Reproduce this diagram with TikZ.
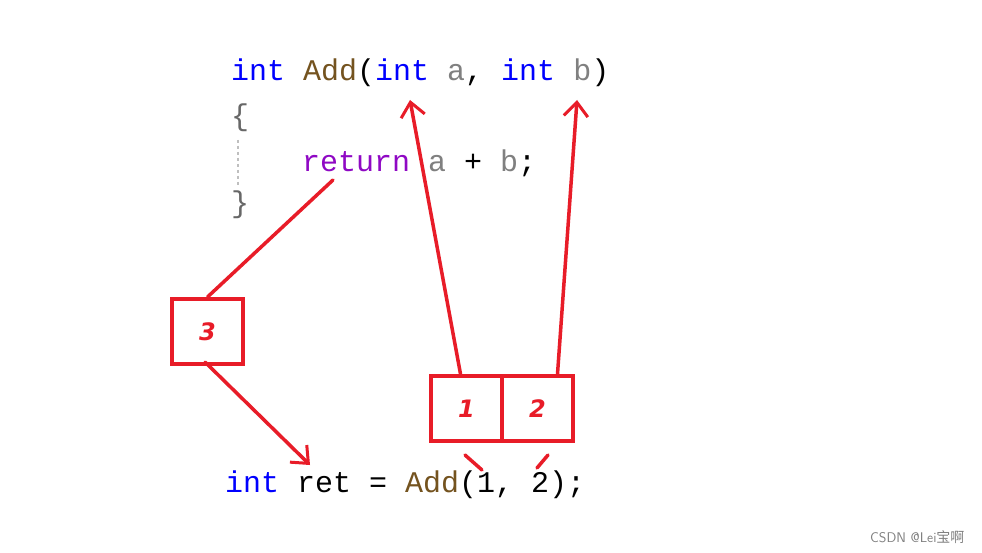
\documentclass[tikz,border=0pt]{standalone}
\usepackage{fontspec}
\setmonofont{Liberation Mono}
\newfontfamily\cjk{Noto Sans CJK SC}
\newfontfamily\digf{DejaVu Sans}
\usetikzlibrary{arrows.meta}
\definecolor{kw}{RGB}{0,0,255}
\definecolor{fn}{RGB}{116,83,31}
\definecolor{pa}{RGB}{128,128,128}
\definecolor{rt}{RGB}{143,8,196}
\definecolor{pen}{RGB}{232,28,40}
\begin{document}
\begin{tikzpicture}[x=1pt,y=-1pt,
  code/.style={anchor=west,inner sep=0pt,font=\ttfamily\fontsize{30}{30}\selectfont},
  redbox/.style={draw=pen,line width=4pt,minimum width=71pt,minimum height=65pt,inner sep=0pt,
     font=\digf\bfseries\itshape\fontsize{24}{24}\selectfont,text=pen},
  ink/.style={draw=pen,line width=3.5pt,line cap=round},
  tip/.style={-{Straight Barb[length=14pt,width=24pt,line width=3pt]}}]
\useasboundingbox[fill=white] (0,0) rectangle (982,553);
\node[code] (l1) at (231,73) {\textcolor{kw}{int} \textcolor{fn}{Add}(\textcolor{kw}{int} \textcolor{pa}{a}, \textcolor{kw}{int} \textcolor{pa}{b})};
\node[code] (l2) at (231,118) {\textcolor{pa!80!black}{\{}};
\node[code] (l3) at (302,163) {\textcolor{rt}{return} \textcolor{pa}{a} + \textcolor{pa}{b};};
\node[code] (l4) at (231,205) {\textcolor{pa!80!black}{\}}};
\draw[gray!50,line width=2pt,dashed] (238,140) -- (238,185);
\node[code] (l5) at (225,485) {\textcolor{kw}{int} ret = \textcolor{fn}{Add}(1, 2);};
\node[redbox] (b3) at (207.5,331.5) {3};
\node[redbox] (b1) at (466.5,408.5) {1};
\node[redbox] (b2) at (537.5,408.5) {2};
\coordinate (r) at (333,180);
\coordinate (e) at (310,465);
\coordinate (pa) at (410,100);
\coordinate (pb) at (577,100);
\draw[ink] (r) -- (b3.north);
\draw[ink,tip] (205,362) -- (e);
\draw[ink,tip] (b1.north) ++(-6,0) -- (pa);
\draw[ink,tip] (b2.north) ++(20,0) -- (pb);
\draw[ink] (465,455) -- (482,470);
\draw[ink] (548,455) -- (537,468);
\node[anchor=east,text=gray,font=\sffamily\fontsize{14}{14}\selectfont] (wm) at (968,537) {CSDN @Lei{\cjk 宝啊}};
\end{tikzpicture}
\end{document}
